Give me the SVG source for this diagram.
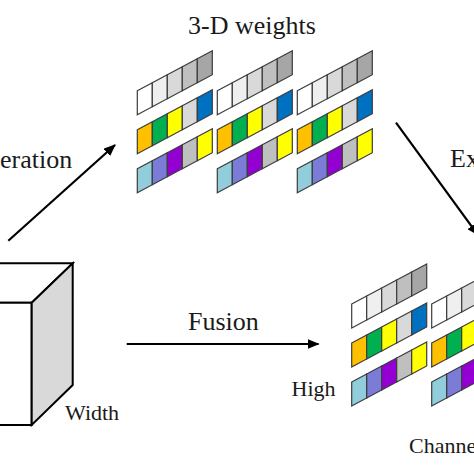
<svg xmlns="http://www.w3.org/2000/svg" xmlns:xlink="http://www.w3.org/1999/xlink" width="474" height="474" viewBox="0 0 474 474">
<style>
.lbl{font-family:"Liberation Serif","Times New Roman",serif;fill:#1a1a1a}
.big{font-size:26px}
.sm{font-size:22px}
.cell polygon{stroke:#3c3c3c;stroke-width:1.2;stroke-linejoin:miter}
.conn{stroke:#000;stroke-width:2.2;fill:none}
.edge{stroke:#000;stroke-width:2;stroke-linejoin:miter}
</style>
<defs>
<marker id="ah" viewBox="0 0 12 10" refX="11" refY="5" markerWidth="12" markerHeight="10" markerUnits="userSpaceOnUse" orient="auto">
<path d="M0,0 L12,5 L0,10 Z" fill="#000"/>
</marker>
<g id="w" class="cell">
<polygon points="0,0 15,-8 15,16 0,24" fill="#ffffff"/>
<polygon points="15,-8 30,-16 30,8 15,16" fill="#efefef"/>
<polygon points="30,-16 45,-24 45,0 30,8" fill="#d9d9d9"/>
<polygon points="45,-24 60,-32 60,-8 45,0" fill="#bfbfbf"/>
<polygon points="60,-32 75,-40 75,-16 60,-8" fill="#a6a6a6"/>
<polygon points="0,39 15,31 15,55 0,63" fill="#ffc000"/>
<polygon points="15,31 30,23 30,47 15,55" fill="#00b050"/>
<polygon points="30,23 45,15 45,39 30,47" fill="#ffff00"/>
<polygon points="45,15 60,7 60,31 45,39" fill="#d9d9d9"/>
<polygon points="60,7 75,-1 75,23 60,31" fill="#0070c0"/>
<polygon points="0,78 15,70 15,94 0,102" fill="#92cddc"/>
<polygon points="15,70 30,62 30,86 15,94" fill="#7b7bd8"/>
<polygon points="30,62 45,54 45,78 30,86" fill="#9400d3"/>
<polygon points="45,54 60,46 60,70 45,78" fill="#bfbfbf"/>
<polygon points="60,46 75,38 75,62 60,70" fill="#ffff00"/>
</g>
</defs>
<rect width="474" height="474" fill="#fff"/>

<g id="cube">
<polygon class="edge" points="-60,302.7 31.7,302.7 72.7,263.3 -20,263.3" fill="#fff"/>
<polygon class="edge" points="-60,302.7 31.7,302.7 31.7,425 -60,425" fill="#fff"/>
<polygon class="edge" points="31.7,302.7 72.7,263.3 72.7,385 31.7,425" fill="#d9d9d9"/>
</g>

<g id="weights1"><use xlink:href="#w" x="137.3" y="90.7"/></g>
<g id="weights2"><use xlink:href="#w" x="217.3" y="90.7"/></g>
<g id="weights3"><use xlink:href="#w" x="297.3" y="90.7"/></g>
<g id="fused1"><use xlink:href="#w" x="351.7" y="304"/></g>
<g id="fused2"><use xlink:href="#w" x="431.7" y="304"/></g>

<g id="connectors">
<line class="conn" x1="8.3" y1="240.7" x2="115" y2="145" marker-end="url(#ah)"/>
<line class="conn" x1="396" y1="122.7" x2="478" y2="235" marker-end="url(#ah)"/>
<line class="conn" x1="126.7" y1="344" x2="318.5" y2="344" marker-end="url(#ah)"/>
</g>

<g id="labels">
<text class="lbl big" x="188" y="34">3-D weights</text>
<text class="lbl big" x="0" y="168">eration</text>
<text class="lbl big" x="450" y="167">Ex</text>
<text class="lbl big" x="188" y="330">Fusion</text>
<text class="lbl sm" x="291.5" y="396">High</text>
<text class="lbl sm" x="65" y="420">Width</text>
<text class="lbl sm" x="409" y="453">Channe</text>
</g>
</svg>
